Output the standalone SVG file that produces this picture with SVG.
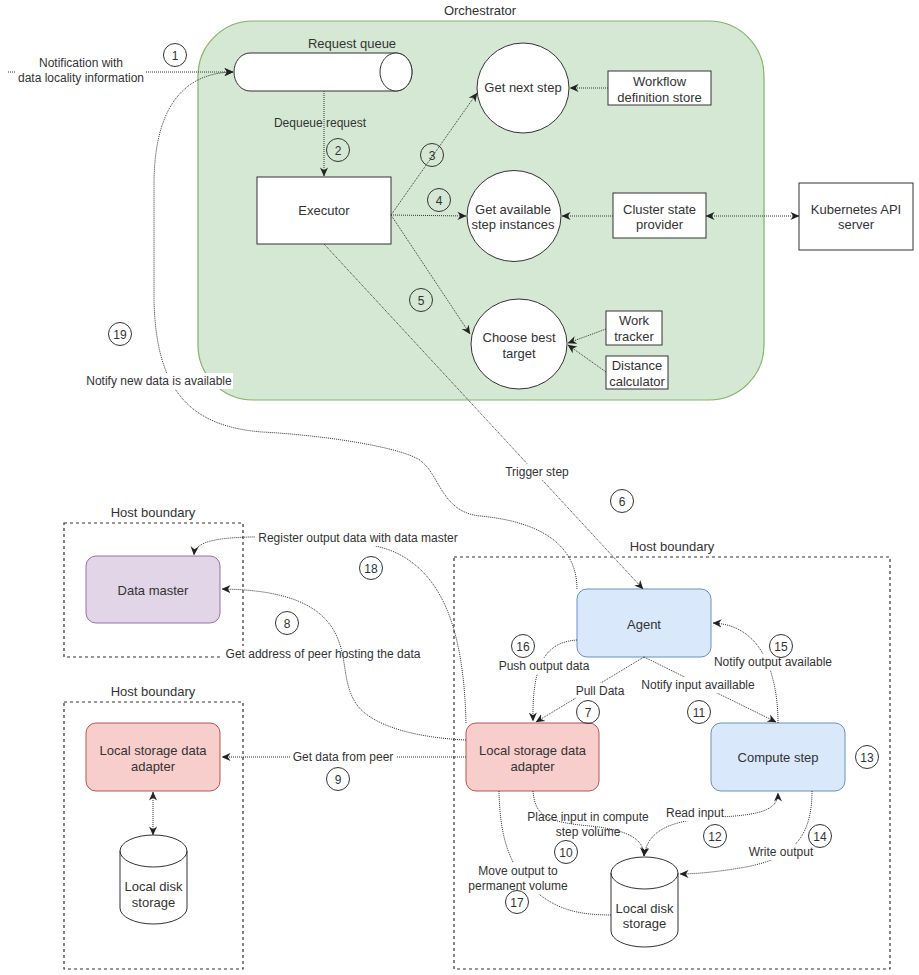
<svg xmlns="http://www.w3.org/2000/svg" width="919" height="975" viewBox="0 0 919 975">
<style>
text{font-family:"Liberation Sans",Arial,sans-serif;fill:#333;text-anchor:middle}
.n{font-size:13px}
.l{font-size:12px}
.c{font-size:12px}
.box{fill:#fff;stroke:#333;stroke-width:1}
.hb{fill:none;stroke:#333;stroke-width:1.2;stroke-dasharray:3 3}
.e{fill:none;stroke:#333;stroke-width:1;stroke-dasharray:1 1}
.num{fill:none;stroke:#333;stroke-width:1}
.bg{fill:#fff}
.blue{fill:#dae8fc;stroke:#6c8ebf;stroke-width:1}
.red{fill:#f8cecc;stroke:#b85450;stroke-width:1}
.purple{fill:#e1d5e7;stroke:#9673a6;stroke-width:1}
</style>
<defs>
<marker id="a" viewBox="0 0 10 10" refX="9.5" refY="5" markerWidth="9" markerHeight="9" markerUnits="userSpaceOnUse" orient="auto-start-reverse">
<path d="M0,0.5 L10,5 L0,9.5 L3,5 Z" fill="#222"/>
</marker>
</defs>

<g id="orchestrator">
<rect x="198" y="21" width="566" height="379" rx="55" fill="#d5e8d4" stroke="#82b366" stroke-width="1.2"/>
<text class="n" x="480" y="15">Orchestrator</text>
</g>

<g id="host-boundary-1">
<rect class="hb" x="64" y="523" width="179" height="134"/>
<text class="n" x="153" y="517">Host boundary</text>
</g>
<g id="host-boundary-2">
<rect class="hb" x="64" y="702" width="179" height="267"/>
<text class="n" x="153" y="696">Host boundary</text>
</g>
<g id="host-boundary-3">
<rect class="hb" x="454" y="557" width="436" height="412"/>
<text class="n" x="672" y="551">Host boundary</text>
</g>

<g id="label-get-address">
<rect class="bg" x="223" y="646" width="200" height="16"/>
<text class="l" x="323" y="658">Get address of peer hosting the data</text>
</g>

<g id="request-queue">
<path d="M250,53 L396,53 A16,19 0 0 1 396,91 L250,91 A16,19 0 0 1 250,53 Z" class="box"/>
<ellipse cx="396" cy="72" rx="16" ry="19" class="box"/>
<text class="n" x="352" y="48">Request queue</text>
</g>

<g id="executor">
<rect class="box" x="257" y="177" width="134" height="67"/>
<text class="n" x="324" y="215">Executor</text>
</g>

<g id="get-next-step">
<ellipse class="box" cx="523" cy="88" rx="46" ry="45"/>
<text class="n" x="523" y="92">Get next step</text>
</g>

<g id="workflow-definition-store">
<rect class="box" x="608" y="71" width="103" height="34"/>
<text class="n" x="659.5" y="85.5">Workflow</text>
<text class="n" x="659.5" y="101.5">definition store</text>
</g>

<g id="get-available-step-instances">
<ellipse class="box" cx="514" cy="216" rx="47" ry="45.5"/>
<text class="n" x="513" y="213.5">Get available</text>
<text class="n" x="513" y="228.5">step instances</text>
</g>

<g id="cluster-state-provider">
<rect class="box" x="613" y="193" width="93" height="45"/>
<text class="n" x="659.5" y="213.5">Cluster state</text>
<text class="n" x="659.5" y="228.5">provider</text>
</g>

<g id="kubernetes-api-server">
<rect class="box" x="799" y="183" width="114" height="67"/>
<text class="n" x="856" y="213.5">Kubernetes API</text>
<text class="n" x="856" y="228.5">server</text>
</g>

<g id="choose-best-target">
<ellipse class="box" cx="519" cy="344" rx="48" ry="45"/>
<text class="n" x="519" y="341.5">Choose best</text>
<text class="n" x="519" y="357.5">target</text>
</g>

<g id="work-tracker">
<rect class="box" x="606" y="311" width="56" height="34"/>
<text class="n" x="634" y="324.5">Work</text>
<text class="n" x="634" y="340.5">tracker</text>
</g>

<g id="distance-calculator">
<rect class="box" x="606" y="356" width="62" height="33"/>
<text class="n" x="637" y="369.5">Distance</text>
<text class="n" x="637" y="385.5">calculator</text>
</g>

<g id="data-master">
<rect class="purple" x="86" y="556" width="134" height="67" rx="10"/>
<text class="n" x="153" y="594.5">Data master</text>
</g>

<g id="local-storage-adapter-remote">
<rect class="red" x="86" y="723" width="134" height="68" rx="10"/>
<text class="n" x="153" y="754.5">Local storage data</text>
<text class="n" x="153" y="770.5">adapter</text>
</g>

<g id="local-disk-remote">
<path class="box" d="M120,851 A33.5,16 0 0 1 187,851 L187,908 A33.5,16 0 0 1 120,908 Z"/>
<path fill="none" stroke="#333" d="M120,851 A33.5,16 0 0 0 187,851"/>
<text class="n" x="153.5" y="890.5">Local disk</text>
<text class="n" x="153.5" y="906.5">storage</text>
</g>

<g id="agent">
<rect class="blue" x="577" y="589" width="134" height="68" rx="10"/>
<text class="n" x="644" y="628.5">Agent</text>
</g>

<g id="local-storage-adapter">
<rect class="red" x="466" y="723" width="133" height="68" rx="10"/>
<text class="n" x="532.5" y="754.5">Local storage data</text>
<text class="n" x="532.5" y="770.5">adapter</text>
</g>

<g id="compute-step">
<rect class="blue" x="711" y="723" width="134" height="68" rx="10"/>
<text class="n" x="778" y="762">Compute step</text>
</g>

<g id="local-disk">
<path class="box" d="M611,873 A33.5,16 0 0 1 678,873 L678,931 A33.5,16 0 0 1 611,931 Z"/>
<path fill="none" stroke="#333" d="M611,873 A33.5,16 0 0 0 678,873"/>
<text class="n" x="644.5" y="912.5">Local disk</text>
<text class="n" x="644.5" y="927.5">storage</text>
</g>

<g id="connectors">
<path class="e" d="M8,72 L233,72" marker-end="url(#a)"/>
<path class="e" d="M324,91 L324,176" marker-end="url(#a)"/>
<path class="e" d="M391,215 L477,93" marker-end="url(#a)"/>
<path class="e" d="M391,215 L466,216" marker-end="url(#a)"/>
<path class="e" d="M391,215 L470,334" marker-end="url(#a)"/>
<path class="e" d="M608,88 L570,88" marker-end="url(#a)"/>
<path class="e" d="M613,216 L562,216" marker-end="url(#a)"/>
<path class="e" d="M706,216 L799,216" marker-start="url(#a)" marker-end="url(#a)"/>
<path class="e" d="M606,329 L568,343" marker-end="url(#a)"/>
<path class="e" d="M606,372 L568,345" marker-end="url(#a)"/>
<path class="e" d="M324,244 L643,589" marker-end="url(#a)"/>
<path class="e" d="M577,589 C577,548 545,522 480,516 C440,512 440,472 418,459 C395,446 320,435 262,432 C185,426 156,385 154,300 L154,185 C154,115 178,73 233,72" marker-end="url(#a)"/>
<path class="e" d="M466,723 C464,640 447,574 392,551 C362,539 300,536 250,537 C214,538 195,542 194,555" marker-end="url(#a)"/>
<path class="e" d="M466,740 C420,738 370,727 355,702 C344,684 346,662 340,645 C330,612 300,590 222,589" marker-end="url(#a)"/>
<path class="e" d="M466,757 L222,757" marker-end="url(#a)"/>
<path class="e" d="M153,792 L153,835" marker-start="url(#a)" marker-end="url(#a)"/>
<path class="e" d="M577,640 C545,642 532,665 533,721" marker-end="url(#a)"/>
<path class="e" d="M644,657 L536,722" marker-end="url(#a)"/>
<path class="e" d="M644,657 L776,722" marker-end="url(#a)"/>
<path class="e" d="M778,723 C778,680 765,625 713,623" marker-end="url(#a)"/>
<path class="e" d="M533,791 C535,815 545,822 590,826 C630,830 644,840 644,856" marker-end="url(#a)"/>
<path class="e" d="M644,856 C648,830 670,820 720,817 C760,815 778,810 778,793" marker-start="url(#a)" marker-end="url(#a)"/>
<path class="e" d="M812,791 C812,840 790,860 740,868 C710,873 690,874 680,874" marker-end="url(#a)"/>
<path class="e" d="M499,791 C500,840 510,870 540,895 C560,910 580,915 611,915"/>
</g>

<g id="labels">
<rect class="bg" x="16" y="55" width="130" height="31"/>
<text class="l" x="81" y="67">Notification with</text>
<text class="l" x="81" y="82">data locality information</text>
<text class="l" x="320" y="127">Dequeue request</text>
<rect class="bg" x="85" y="373" width="148" height="16"/>
<text class="l" x="159" y="385">Notify new data is available</text>
<rect class="bg" x="502" y="464" width="68" height="16"/>
<text class="l" x="537" y="476">Trigger step</text>
<rect class="bg" x="255" y="530" width="207" height="16"/>
<text class="l" x="358" y="542">Register output data with data master</text>
<rect class="bg" x="290" y="749" width="107" height="16"/>
<text class="l" x="343" y="761">Get data from peer</text>
<rect class="bg" x="498" y="658" width="92" height="16"/>
<text class="l" x="544" y="670">Push output data</text>
<rect class="bg" x="576" y="683" width="49" height="16"/>
<text class="l" x="600" y="695">Pull Data</text>
<rect class="bg" x="641" y="677" width="115" height="16"/>
<text class="l" x="698" y="689">Notify input availlable</text>
<rect class="bg" x="713" y="654" width="120" height="16"/>
<text class="l" x="773" y="666">Notify output available</text>
<text class="l" x="588" y="821">Place input in compute</text>
<text class="l" x="588" y="836">step volume</text>
<rect class="bg" x="666" y="805" width="58" height="16"/>
<text class="l" x="695" y="817">Read input</text>
<rect class="bg" x="748" y="844" width="66" height="16"/>
<text class="l" x="781" y="856">Write output</text>
<rect class="bg" x="468" y="863" width="100" height="31"/>
<text class="l" x="518" y="875">Move output to</text>
<text class="l" x="518" y="890">permanent volume</text>
</g>

<g id="step-numbers">
<circle class="num" cx="175" cy="55" r="11.5"/><text class="c" x="175" y="59.5">1</text>
<circle class="num" cx="338" cy="150" r="11.5"/><text class="c" x="338" y="154.5">2</text>
<circle class="num" cx="432" cy="155" r="11.5"/><text class="c" x="432" y="159.5">3</text>
<circle class="num" cx="439" cy="200" r="11.5"/><text class="c" x="439" y="204.5">4</text>
<circle class="num" cx="421" cy="300" r="11.5"/><text class="c" x="421" y="304.5">5</text>
<circle class="num" cx="622" cy="501" r="11.5"/><text class="c" x="622" y="505.5">6</text>
<circle class="num" cx="588" cy="712" r="11.5"/><text class="c" x="588" y="716.5">7</text>
<circle class="num" cx="287" cy="623" r="11.5"/><text class="c" x="287" y="627.5">8</text>
<circle class="num" cx="338" cy="779" r="11.5"/><text class="c" x="338" y="783.5">9</text>
<circle class="num" cx="566" cy="852" r="11.5"/><text class="c" x="566" y="856.5">10</text>
<circle class="num" cx="699" cy="712" r="11.5"/><text class="c" x="699" y="716.5">11</text>
<circle class="num" cx="715" cy="836" r="11.5"/><text class="c" x="715" y="840.5">12</text>
<circle class="num" cx="867" cy="757" r="11.5"/><text class="c" x="867" y="761.5">13</text>
<circle class="num" cx="820" cy="836" r="11.5"/><text class="c" x="820" y="840.5">14</text>
<circle class="num" cx="781" cy="646" r="11.5"/><text class="c" x="781" y="650.5">15</text>
<circle class="num" cx="523" cy="646" r="11.5"/><text class="c" x="523" y="650.5">16</text>
<circle class="num" cx="517" cy="902" r="11.5"/><text class="c" x="517" y="906.5">17</text>
<circle class="num" cx="371" cy="568" r="11.5"/><text class="c" x="371" y="572.5">18</text>
<circle class="num" cx="120" cy="334" r="11.5"/><text class="c" x="120" y="338.5">19</text>
</g>
</svg>
